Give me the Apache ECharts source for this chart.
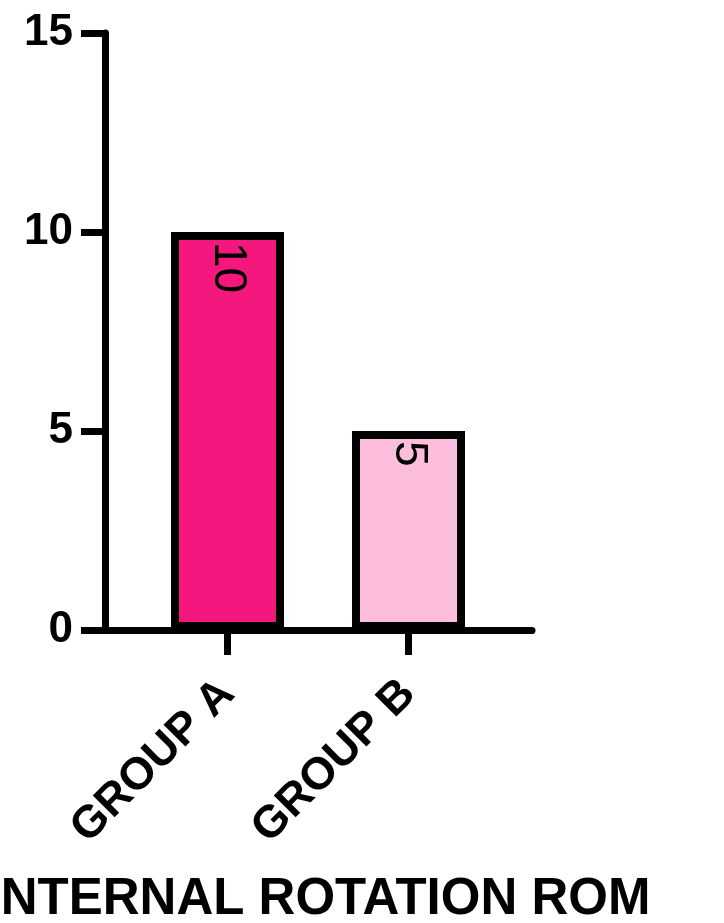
<!DOCTYPE html>
<html>
<head>
<meta charset="utf-8">
<script src="https://cdn.jsdelivr.net/npm/echarts@6/dist/echarts.min.js"></script>
<style>
html,body{margin:0;padding:0;background:#fff;}
#main{width:724px;height:923px;}
</style>
</head>
<body>
<div id="main"></div>
<script>
// data
var categories = ['GROUP A', 'GROUP B'];
var values = [10, 5];
var barColors = ['#F4177E', '#FDBDDC'];
var yMin = 0, yMax = 15, yStep = 5;
var axisTitle = 'INTERNAL ROTATION ROM';

var font = "'Liberation Sans', Arial, Helvetica, sans-serif";

var chart = echarts.init(document.getElementById('main'));

var option = {
	animation: false,
	backgroundColor: '#fff',
	grid: [
		// frame with the long baseline and the y axis
		{left: 105, right: 192, top: 33, bottom: 293, outerBoundsMode: 'none', containLabel: false},
		// the bars sit in a narrower band
		{left: 137, width: 362, top: 33, bottom: 293, outerBoundsMode: 'none', containLabel: false}
	],
	xAxis: [
		{
			gridIndex: 0, type: 'value', min: 0, max: 1,
			axisLine: {show: true, lineStyle: {color: '#000', width: 7}},
			axisTick: {show: false}, axisLabel: {show: false}, splitLine: {show: false},
			name: axisTitle, nameLocation: 'middle', nameGap: 244,
			nameTextStyle: {fontFamily: font, fontSize: 51, fontWeight: 'bold', color: '#000'}
		},
		{
			gridIndex: 1, type: 'category', data: categories,
			axisLine: {show: false},
			axisTick: {show: true, alignWithLabel: true, length: 25, lineStyle: {color: '#000', width: 7}},
			axisLabel: {rotate: 45, margin: 57, fontFamily: font, fontSize: 45, fontWeight: 'bold', color: '#000'}
		}
	],
	yAxis: [
		{
			gridIndex: 0, type: 'value', min: yMin, max: yMax, interval: yStep,
			axisLine: {show: true, lineStyle: {color: '#000', width: 7}},
			axisTick: {show: true, length: 24, lineStyle: {color: '#000', width: 7}},
			axisLabel: {margin: 32, fontFamily: font, fontSize: 44, fontWeight: 'bold', color: '#000'},
			splitLine: {show: false}
		},
		{gridIndex: 1, type: 'value', min: yMin, max: yMax, show: false}
	],
	series: [{
		type: 'bar',
		xAxisIndex: 1, yAxisIndex: 1,
		barWidth: 113,
		data: values.map(function(v, i){
			return {value: v, itemStyle: {color: barColors[i]}};
		}),
		itemStyle: {borderColor: '#000', borderWidth: 8},
		label: {
			show: true, position: 'insideTop', distance: 10, rotate: -90,
			align: 'left', verticalAlign: 'middle',
			fontFamily: font, fontSize: 46, color: '#000'
		}
	}]
};

chart.setOption(option);
</script>
</body>
</html>
